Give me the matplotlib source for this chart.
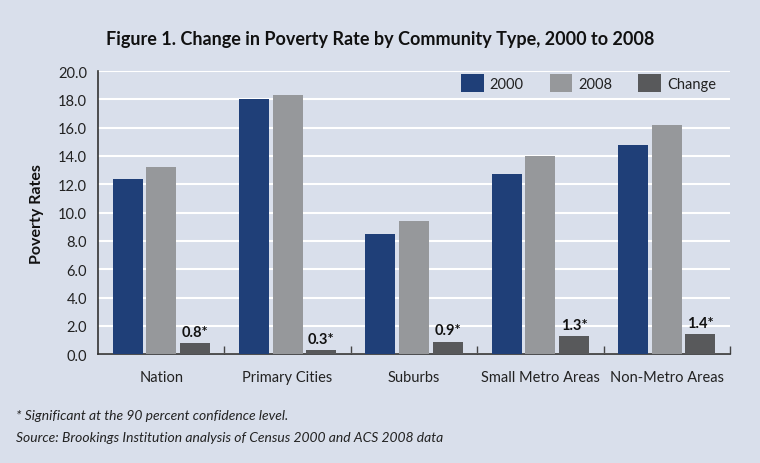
import matplotlib
matplotlib.use("Agg")
import matplotlib.pyplot as plt
import numpy as np

categories = ["Nation", "Primary Cities", "Suburbs", "Small Metro Areas", "Non-Metro Areas"]
rate_2000 = [12.4, 18.0, 8.5, 12.7, 14.8]
rate_2008 = [13.2, 18.3, 9.4, 14.0, 16.2]
change = [0.8, 0.3, 0.9, 1.3, 1.4]
change_labels = ["0.8*", "0.3*", "0.9*", "1.3*", "1.4*"]
series_names = ["2000", "2008", "Change"]
yticks = [0, 2, 4, 6, 8, 10, 12, 14, 16, 18, 20]

BG = "#d9dfeb"
C2000 = "#1f3f78"
C2008 = "#96989b"
CCHG = "#58595b"

plt.rcParams['font.family'] = ['Lato', 'DejaVu Sans']
fig = plt.figure(figsize=(7.6, 4.64), dpi=100, facecolor=BG)
ax = fig.add_axes([98/760, 1-355.3/464, 632/760, (355.3-72)/464])
ax.set_facecolor(BG)

x = np.arange(len(categories))
w = 0.237
off = 0.266
b1 = ax.bar(x - off, rate_2000, w, color=C2000, label=series_names[0], zorder=3)
b2 = ax.bar(x, rate_2008, w, color=C2008, label=series_names[1], zorder=3)
b3 = ax.bar(x + off, change, w, color=CCHG, label=series_names[2], zorder=3)

for xi, v, lab in zip(x, change, change_labels):
    ax.annotate(lab, (xi + off, v), xytext=(0, 3), textcoords="offset points",
                ha="center", va="bottom", fontsize=10.5, fontweight="bold", color="#111111")

ax.set_xlim(-0.5, len(categories) - 0.5)
ax.set_ylim(0, 20)
ax.set_yticks(yticks)
ax.set_yticklabels([f"{t:.1f}" for t in yticks], fontsize=10.5, color="#222222")
ax.tick_params(axis="y", length=0, pad=8)
ax.set_xticks(x)
ax.set_xticklabels(categories, fontsize=10.5, color="#222222")
ax.tick_params(axis="x", which="major", length=0, pad=11)
ax.set_xticks(np.arange(len(categories)) + 0.5, minor=True)
ax.tick_params(axis="x", which="minor", direction="in", length=6, width=1, color="#444444")

ax.grid(axis="y", color="white", linewidth=1.5, zorder=0)
ax.set_axisbelow(True)
for s in ["top", "right"]:
    ax.spines[s].set_visible(False)
for s in ["left", "bottom"]:
    ax.spines[s].set_color("#333333")
    ax.spines[s].set_linewidth(1.2)

ax.set_ylabel("Poverty Rates", fontsize=11.5, fontweight="bold", labelpad=10, color="#111111")

fig.text(0.5, 1-39.5/464, "Figure 1. Change in Poverty Rate by Community Type, 2000 to 2008",
         ha="center", va="center", fontsize=13, fontweight="bold", color="#111111")

leg = ax.legend(loc="upper left", bbox_to_anchor=(461/760, 1-75/464), bbox_transform=fig.transFigure,
                ncol=3, frameon=False, fontsize=10.5, handlelength=1.55, handleheight=1.5,
                handletextpad=0.4, columnspacing=1.8, borderpad=0, borderaxespad=0)
for t in leg.get_texts():
    t.set_color("#222222")

fig.text(16/760, 1-416/464, "* Significant at the 90 percent confidence level.",
         ha="left", va="center", fontsize=10, style="italic", color="#222222")
fig.text(16/760, 1-438.5/464, "Source: Brookings Institution analysis of Census 2000 and ACS 2008 data",
         ha="left", va="center", fontsize=10, style="italic", color="#222222")

fig.savefig("out.png", dpi=100, facecolor=BG)
